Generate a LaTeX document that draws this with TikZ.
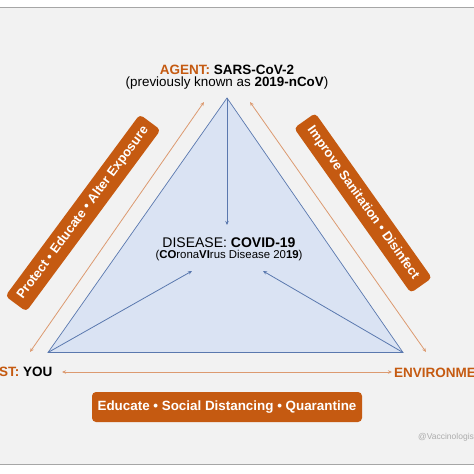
\documentclass[tikz,border=0pt]{standalone}
\usepackage{fontspec}
\setmainfont{Liberation Sans}
\usetikzlibrary{arrows.meta}
\definecolor{bgc}{HTML}{F2F2F2}
\definecolor{orng}{HTML}{C55A11}
\definecolor{oline}{HTML}{DC9A70}
\definecolor{trif}{HTML}{DAE3F3}
\definecolor{tris}{HTML}{5A78AE}
\tikzset{
  olink/.style={draw=oline, line width=0.8pt, {Stealth[length=4pt,width=3.5pt]}-{Stealth[length=4pt,width=3.5pt]}},
  blink/.style={draw=tris, line width=0.8pt, -{Stealth[length=4pt,width=3.5pt]}},
  band/.style={fill=orng, rounded corners=4pt, text=white, font=\bfseries\fontsize{13}{15}\selectfont, inner sep=0pt, minimum height=26pt, align=center},
  lbl/.style={inner sep=0pt, align=center}
}
\begin{document}
\begin{tikzpicture}[x=1pt,y=-1pt]
\useasboundingbox (0,0) rectangle (474,474);
\fill[white] (0,0) rectangle (474,474);
\fill[bgc] (0,8) rectangle (474,464);
\draw[gray!70, line width=1pt] (0,7.5) -- (474,7.5);
\draw[gray!70, line width=1pt] (0,464) -- (474,464);
% triangle
\coordinate (A) at (227,98);
\coordinate (H) at (48,352.5);
\coordinate (E) at (403,352.5);
\draw[fill=trif, draw=tris, line width=0.7pt, line join=miter] (A) -- (H) -- (E) -- cycle;
% disease label
\node[lbl] (dis) at (229,249) {\fontsize{14}{17}\selectfont DISEASE: \textbf{COVID-19}\\[-1pt]\fontsize{11.4}{14}\selectfont(\textbf{CO}rona\textbf{VI}rus Disease 20\textbf{19})};
\coordinate (tA) at (227,225);
\coordinate (tH) at (192,271);
\coordinate (tE) at (263,271);
\draw[blink] (A) -- (tA);
\draw[blink] (H) -- (tH);
\draw[blink] (E) -- (tE);
% agent label
\node[lbl] (agent) at (227,77) {\fontsize{13.5}{16.5}\selectfont\textbf{\color{orng}AGENT:} \textbf{SARS-CoV-2}\\\fontsize{13.4}{16}\selectfont(previously known as \textbf{2019-nCoV})};
% host and environment labels
\node[lbl, anchor=east] (host) at (52.5,372) {\bfseries\fontsize{13.5}{16}\selectfont\textcolor{orng}{HOST:} YOU};
\node[lbl, anchor=west, text=orng] (env) at (394,373) {\bfseries\fontsize{13.5}{16}\selectfont ENVIRONMENT};
% orange links
\coordinate (oL1) at (204,102);
\coordinate (oL2) at (30,352);
\coordinate (oR1) at (250,102);
\coordinate (oR2) at (426,352);
\coordinate (oB1) at (62,372);
\coordinate (oB2) at (392,372);
\draw[olink] (oL1) -- (oL2);
\draw[olink] (oR1) -- (oR2);
\draw[olink] (oB1) -- (oB2);
% bands
\node[band, minimum width=226pt, rotate=53.5] (bandL) at (83,213) {Protect • Educate • Alter Exposure};
\node[band, minimum width=202pt, rotate=-54.7] (bandR) at (363,203) {Improve Sanitation • Disinfect};
\node[band, minimum width=270pt, minimum height=30pt, font=\bfseries\fontsize{13.4}{15}\selectfont] (bandB) at (227,407) {Educate • Social Distancing • Quarantine};
% watermark
\node[lbl, anchor=west, text=gray!65] (wm) at (418,437) {\fontsize{8.5}{10}\selectfont @Vaccinologist};
\end{tikzpicture}
\end{document}
